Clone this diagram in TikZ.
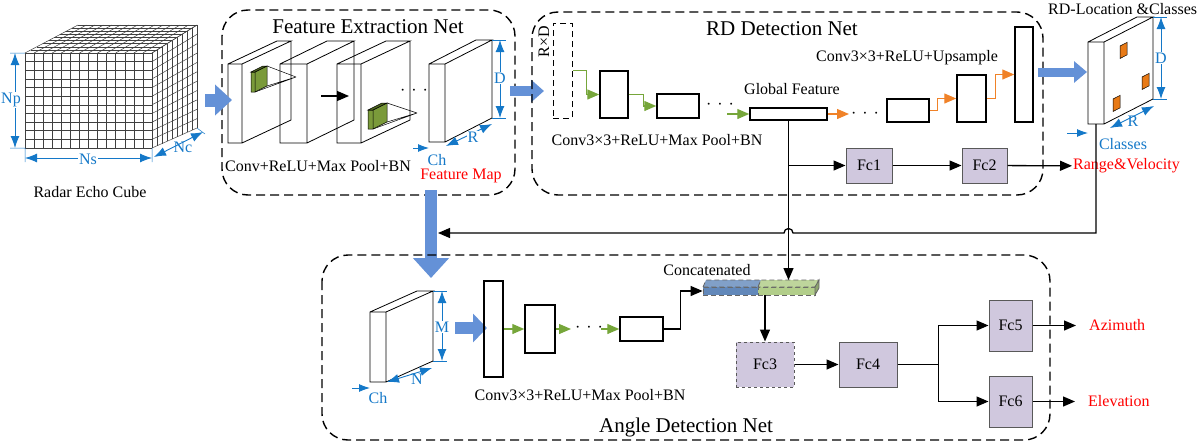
\documentclass[tikz,border=0pt]{standalone}
\usepackage{fontspec}
\setmainfont{Liberation Serif}
\usetikzlibrary{arrows.meta,calc}
\definecolor{dimblue}{RGB}{20,120,200}
\definecolor{fatblue}{RGB}{100,145,215}
\definecolor{fcfill}{RGB}{208,200,222}
\definecolor{convgreen}{RGB}{118,166,58}
\definecolor{uporange}{RGB}{240,130,40}
\definecolor{kgreen}{RGB}{122,154,58}
\definecolor{kdark}{RGB}{80,105,30}
\definecolor{catblue}{RGB}{98,136,186}
\definecolor{catgreen}{RGB}{178,206,138}
\definecolor{sqorange}{RGB}{232,122,22}
\begin{document}
\begin{tikzpicture}[x=1pt,y=-1pt,
  txt/.style={font=\fontsize{16}{18}\selectfont, inner sep=1pt},
  title/.style={font=\fontsize{21}{24}\selectfont, inner sep=1pt},
  net/.style={draw, line width=1.4pt, dash pattern=on 9pt off 5pt, rounded corners=26pt},
  layer/.style 2 args={draw, line width=1.5pt, inner sep=0pt, minimum width=#1, minimum height=#2},
  fc/.style={draw=black!65, fill=fcfill, line width=1pt, inner sep=0pt, font=\fontsize{16}{18}\selectfont},
  slab/.style={draw, line width=0.8pt},
  grid/.style={draw=black!75, line width=0.5pt},
  arr/.style={line width=1.3pt, -{Triangle[length=12pt,width=10pt]}},
  garr/.style={arr, draw=convgreen},
  oarr/.style={arr, draw=uporange},
  fat/.style n args={3}{draw=fatblue, line width=#1, -{Triangle[width=#2,length=#3]}},
  dim/.style={draw=dimblue, line width=0.9pt, {Latex[length=12pt,width=9pt]}-{Latex[length=12pt,width=9pt]}},
  dimone/.style={draw=dimblue, line width=0.9pt, -{Latex[length=11pt,width=8pt]}},
  ext/.style={draw=dimblue, line width=0.5pt},
  dimlbl/.style={txt, text=dimblue}]
\useasboundingbox (0,0) rectangle (1200,442);

\coordinate (ftl) at (25,53);
\coordinate (ftr) at (152,53);
\coordinate (fbr) at (152,148);
\coordinate (fbl) at (25,148);
\coordinate (btl) at (78,25);
\coordinate (btr) at (197,25);
\coordinate (bbr) at (197,128);
\foreach \i in {0,...,14} \draw[grid] ($(ftl)!\i/14!(ftr)$) -- ($(fbl)!\i/14!(fbr)$);
\foreach \i in {0,...,11} \draw[grid] ($(ftl)!\i/11!(fbl)$) -- ($(ftr)!\i/11!(fbr)$);
\foreach \i in {0,...,14} \draw[grid] ($(ftl)!\i/14!(ftr)$) -- ($(btl)!\i/14!(btr)$);
\foreach \j in {1,...,9} \draw[grid] ($(ftl)!\j/9!(btl)$) -- ($(ftr)!\j/9!(btr)$);
\foreach \i in {0,...,11} \draw[grid] ($(ftr)!\i/11!(fbr)$) -- ($(btr)!\i/11!(bbr)$);
\foreach \j in {1,...,9} \draw[grid] ($(ftr)!\j/9!(btr)$) -- ($(fbr)!\j/9!(bbr)$);
\draw[ext] (ftl) -- ++(-15,0) (fbl) -- ++(-15,0) (fbl) -- ++(0,14) (fbr) -- ++(0,14) (bbr) -- ++(8,6);
\draw[dim] (15,53) -- (15,148);
\draw[dim] (25,158) -- (152,158);
\draw[dim] (154,157) -- (203,132);
\node[dimlbl, fill=white] (np) at (11,100) {Np};
\node[dimlbl, fill=white] (ns) at (88,159) {Ns};
\node[dimlbl] (nc) at (183,147) {Nc};
\node[txt] (cube) at (90,192) {Radar Echo Cube};

\draw[net] (222,10) rectangle (515,195);
\node[title] (fetitle) at (368,27) {Feature Extraction Net};
\foreach \xa/\xb/\ya/\yb/\dx/\dy in {228/242/64/143/49/-23, 280/307/64/143/47/-23, 337/361/64/143/49/-23, 429/445/64/142/47/-24, 370/386/312/382/47/-21, 1088/1104/42/124/49/-25}
  \draw[slab] (\xa,\ya) rectangle (\xb,\yb) (\xa,\ya) -- ++(\dx,\dy) -- ++(\xb-\xa,0) -- (\xb,\ya) ++(\dx,\dy) -- ++(0,\yb-\ya) -- (\xb,\yb);
\draw[line width=0.5pt] (267,66) -- (296,77) (267,86) -- (296,77) (255,92) -- (296,77);
\draw[line width=0.5pt, fill=kgreen] (251,72) rectangle (255,92) (255,72) -- (267,66) -- (267,86) -- (255,92) -- cycle;
\draw[line width=0.5pt, fill=kdark] (251,72) -- (263,66) -- (267,66) -- (255,72) -- cycle;
\draw[line width=0.5pt] (387,103) -- (417,113) (387,122) -- (417,113) (373,129) -- (417,113);
\draw[line width=0.5pt, fill=kgreen] (368,110) rectangle (373,129) (373,110) -- (387,103) -- (387,122) -- (373,129) -- cycle;
\draw[line width=0.5pt, fill=kdark] (368,110) -- (382,103) -- (387,103) -- (373,110) -- cycle;
\coordinate (fa1) at (321,96);
\coordinate (fa2) at (349,96);
\draw[arr] (fa1) -- (fa2);
\node[txt] (fedots) at (414,92) {·\hspace{6pt}·\hspace{6pt}·};
\draw[ext] (492,40) -- (506,40) (492,118) -- (506,118);
\draw[dim] (500,40) -- (500,118);
\node[dimlbl, fill=white] (fed) at (500,78) {D};
\draw[dim] (446,146) -- (492,124);
\node[dimlbl, fill=white] (fer) at (473,137) {R};
\draw[dimone] (413,148) -- (429,148);
\node[dimlbl] (fech) at (437,160) {Ch};
\node[txt] (feconv) at (318,166) {Conv+ReLU+Max Pool+BN};
\node[txt, text=red] (fmap) at (461,176) {Feature Map};

\coordinate (cubeout) at (205,100);
\coordinate (fein) at (232,100);
\draw[fat={13pt}{30pt}{17pt}] (cubeout) -- (fein);
\coordinate (feout) at (510,91);
\coordinate (rdin) at (544,91);
\draw[fat={10pt}{22pt}{13pt}] (feout) -- (rdin);
\coordinate (fmout) at (431,190);
\coordinate (angin) at (431,278);
\draw[fat={12pt}{35pt}{20pt}] (fmout) -- (angin);

\draw[net] (532,12) rectangle (1043,195);
\node[title] (rdtitle) at (782,29) {RD Detection Net};
\node[draw, line width=1pt, dash pattern=on 6pt off 4pt, inner sep=0pt, minimum width=19pt, minimum height=95pt] (rxd) at (562.5,70.5) {};
\node[txt, rotate=90] (rxdlbl) at (544,42) {R×D};
\node[layer={28pt}{47pt}] (c1) at (614,94.5) {};
\node[layer={42pt}{24pt}] (c2) at (678,106) {};
\node[layer={77pt}{12pt}] (gf) at (788.5,114) {};
\node[layer={42pt}{23pt}] (u1) at (908,110.5) {};
\node[layer={29pt}{47pt}] (u2) at (971.5,98.5) {};
\node[layer={18pt}{95pt}] (u3) at (1024,74.5) {};
\draw[garr] (rxd.east) -- ++(14,0) |- (c1.west);
\draw[garr] (c1.east) -- ++(15,0) |- (c2.west);
\node[txt] (rddots1) at (720,106) {·\hspace{6pt}·\hspace{6pt}·};
\coordinate (gfin) at (727,114);
\draw[garr] (gfin) -- (gf.west);
\coordinate (gfout) at (849,114);
\draw[oarr] (gf.east) -- (gfout);
\node[txt] (rddots2) at (865,115) {·\hspace{6pt}·\hspace{6pt}·};
\draw[oarr] (u1.east) -- ++(8,0) |- (u2.west);
\draw[oarr] (u2.east) -- ++(9,0) |- (u3.west);
\node[txt] (gflbl) at (792,89) {Global Feature};
\node[txt] (rdconv) at (657,140) {Conv3×3+ReLU+Max Pool+BN};
\node[txt] (upconv) at (907,58) {Conv3×3+ReLU+Upsample};
\node[fc, minimum width=46pt, minimum height=35pt] (fc1) at (869,165.5) {Fc1};
\node[fc, minimum width=45pt, minimum height=35pt] (fc2) at (984.5,165.5) {Fc2};
\draw[arr] (gf.south |- fc1.west) -- (fc1.west);
\draw[arr] (fc1) -- (fc2);
\node[txt, text=red, anchor=west] (rv) at (1072,166) {Range\&Velocity};
\draw[arr] (fc2) -- (rv);

\coordinate (rdout) at (1038,72);
\coordinate (locin) at (1087,72);
\draw[fat={9pt}{21pt}{13pt}] (rdout) -- (locin);
\foreach \sx/\sy in {1120/46, 1142/77, 1113/99}
  \draw[line width=0.5pt, fill=sqorange] (\sx,\sy) -- ++(7,-3.6) -- ++(0,12.5) -- ++(-7,3.6) -- cycle;
\draw[ext] (1153,17) -- (1167,17) (1153,99) -- (1167,99);
\draw[dim] (1161,17) -- (1161,99);
\node[dimlbl, fill=white] (locd) at (1161,58) {D};
\draw[dim] (1110,128) -- (1154,106);
\node[dimlbl] (locr) at (1133,121) {R};
\draw[dimone] (1067,133) -- (1088,133);
\node[dimlbl] (classes) at (1123,144) {Classes};
\node[txt, anchor=west] (rdloc) at (1047,9) {RD-Location \&Classes};

\coordinate (outbot) at (1096,124);
\coordinate (hopr) at (793,233);
\coordinate (featin) at (438,233);
\draw[arr] (outbot) |- (hopr) arc[start angle=0, end angle=180, radius=4.5pt] -- (featin);

\draw[net] (322,255) rectangle (1050,440);
\node[title] (angtitle) at (686,427) {Angle Detection Net};
\draw[ext] (433,291) -- (447,291) (433,361) -- (447,361);
\draw[dim] (442,291) -- (442,361);
\node[dimlbl, fill=white] (angm) at (442,327) {M};
\draw[dim] (387,382) -- (432,368);
\node[dimlbl] (angn) at (417,379) {N};
\draw[dimone] (352,388) -- (370,388);
\node[dimlbl] (angch) at (378,398) {Ch};
\coordinate (slabout) at (455,328);
\coordinate (a1in) at (487,328);
\draw[fat={12pt}{28pt}{14pt}] (slabout) -- (a1in);
\node[layer={19pt}{96pt}] (a1) at (493.5,329) {};
\node[layer={30pt}{48pt}] (a2) at (540,329) {};
\node[layer={43pt}{24pt}] (a3) at (641.5,329) {};
\draw[garr] (a1) -- (a2);
\coordinate (ad1) at (571,329);
\draw[garr] (a2.east) -- (ad1);
\node[txt] (angdots) at (589,329) {·\hspace{6pt}·\hspace{6pt}·};
\coordinate (ad2) at (601,329);
\draw[garr] (ad2) -- (a3.west);
\node[txt] (angconv) at (580,395) {Conv3×3+ReLU+Max Pool+BN};
\node[draw=black!60, dash pattern=on 5pt off 3pt, line width=0.8pt, fill=catblue, inner sep=0pt, minimum width=55pt, minimum height=8pt] (catb) at (730.5,291) {};
\node[draw=black!60, dash pattern=on 5pt off 3pt, line width=0.8pt, fill=catgreen, inner sep=0pt, minimum width=57pt, minimum height=8pt] (catg) at (786.5,291) {};
\draw[draw=black!60, dash pattern=on 5pt off 3pt, line width=0.8pt, fill=catblue!80!white] (703,287) -- (706,280) -- (761,280) -- (758,287) -- cycle;
\draw[draw=black!60, dash pattern=on 5pt off 3pt, line width=0.8pt, fill=catgreen!85!white] (758,287) -- (761,280) -- (819,280) -- (815,287) -- cycle;
\draw[draw=black!60, line width=0.8pt, fill=catgreen!80!black] (815,287) -- (819,280) -- (819,288) -- (815,295) -- cycle;
\node[txt] (catlbl) at (707,270) {Concatenated};
\coordinate (cattop) at (788.5,280);
\draw[arr] (gf.south) -- (cattop);
\draw[arr] (a3.east) -- ++(17,0) |- (catb.west);
\node[fc, dashed, minimum width=58pt, minimum height=45pt] (fc3) at (765,364.5) {Fc3};
\node[fc, minimum width=58pt, minimum height=45pt] (fc4) at (868,364.5) {Fc4};
\node[fc, minimum width=43pt, minimum height=51pt] (fc5) at (1010.5,325.5) {Fc5};
\node[fc, minimum width=43pt, minimum height=51pt] (fc6) at (1010.5,401.5) {Fc6};
\draw[arr] (fc3.north |- catg.south) -- (fc3.north);
\draw[arr] (fc3) -- (fc4);
\draw[arr] (fc4.east) -- ++(41,0) |- (fc5.west);
\draw[arr] (fc4.east) -- ++(41,0) |- (fc6.west);
\node[txt, text=red, anchor=west] (az) at (1088,325.5) {Azimuth};
\node[txt, text=red, anchor=west] (el) at (1087,401.5) {Elevation};
\draw[arr, shorten >=12pt] (fc5) -- (az);
\draw[arr, shorten >=12pt] (fc6) -- (el);
\end{tikzpicture}
\end{document}
